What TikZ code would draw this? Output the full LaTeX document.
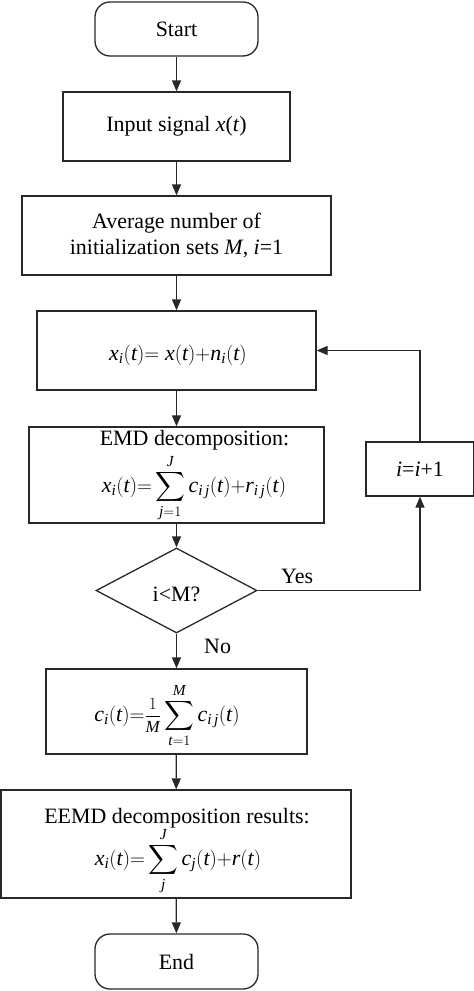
\documentclass[tikz,border=0pt]{standalone}
\usepackage{exscale}
\usepackage{fontspec}
\setmainfont{Liberation Serif}
\usetikzlibrary{shapes.geometric,arrows.meta}
\definecolor{ln}{RGB}{40,40,40}
\begin{document}
\begin{tikzpicture}[x=1bp,y=-1bp,
  every node/.style={font=\fontsize{22}{27}\selectfont, text=black},
  box/.style={draw=ln, line width=1.3bp, rectangle, inner sep=0pt, align=center},
  term/.style={box, rounded corners=15bp},
  dec/.style={draw=ln, line width=1.3bp, diamond, inner sep=0pt, aspect=1.9},
  txt/.style={inner sep=0pt, anchor=base},
  arr/.style={draw=ln, line width=1.3bp, -{Triangle[length=11bp,width=9bp]}}]
\useasboundingbox (0,0) rectangle (474,991);
\node[term, minimum width=163bp, minimum height=54bp] (start) at (176.5,29) {Start};
\node[box, minimum width=227bp, minimum height=69bp] (input) at (176.5,126.5) {Input signal \textit{x}(\textit{t})};
\node[box, minimum width=309bp, minimum height=79bp] (avg) at (176.5,235.5) {Average number of\\initialization sets \textit{M}, \textit{i}=1};
\node[box, minimum width=279bp, minimum height=79bp] (xi) at (176.5,350.5) {};
\node[txt] (xit) at (178,360) {$\mathit{x_i(t)}{=}\;\mathit{x(t){+}n_i(t)}$};
\node[box, minimum width=295bp, minimum height=96bp] (emd) at (176.5,475) {};
\node[txt] (emdt) at (194.5,445) {EMD decomposition:};
\node[txt] (emdf) at (194,492) {$\displaystyle\mathit{x_i(t)}{=}\sum_{\mathit{j}=1}^{\mathit{J}}\mathit{c_{i\,j}(t){+}r_{i\,j}(t)}$};
\node[dec, minimum width=161bp, minimum height=85bp] (dia) at (176.5,590.5) {};
\node[txt] (diat) at (176.5,601) {i<M?};
\node[box, minimum width=108bp, minimum height=54bp] (inc) at (420,469) {\textit{i}=\textit{i}+1};
\node[box, minimum width=261bp, minimum height=85bp] (ci) at (176.5,711.5) {};
\node[txt] (cit) at (167,721) {$\displaystyle\mathit{c_i(t)}{=}\mbox{\fontsize{17}{20}\selectfont$\displaystyle\frac{1}{\mathit{M}}$}\sum_{\mathit{t}=1}^{\mathit{M}}\mathit{c_{i\,j}(t)}$};
\node[box, minimum width=350bp, minimum height=108bp] (eemd) at (176,844) {};
\node[txt] (eemdt) at (177,823) {EEMD decomposition results:};
\node[txt] (eemdf) at (178,865) {$\displaystyle\mathit{x_i(t)}{=}\sum_{\mathit{j}}^{\mathit{J}}\mathit{c_j(t){+}r(t)}$};
\node[term, minimum width=163bp, minimum height=55bp] (end) at (176.5,961.5) {End};
\node[txt, anchor=base west] (yes) at (281,583) {Yes};
\node[txt, anchor=base west] (no) at (204,653) {No};
\coordinate (c1) at (420,590.5);
\coordinate (c2) at (420,350.5);
\draw[arr] (start) -- (input);
\draw[arr] (input) -- (avg);
\draw[arr] (avg) -- (xi);
\draw[arr] (xi) -- (emd);
\draw[arr] (emd) -- (dia);
\draw[arr] (dia) -- (ci);
\draw[arr] (ci) -- (eemd);
\draw[arr] (eemd) -- (end);
\draw[arr] (dia.east) -- (c1) -- (inc.south);
\draw[arr] (inc.north) -- (c2) -- (xi.east);
\end{tikzpicture}
\end{document}
